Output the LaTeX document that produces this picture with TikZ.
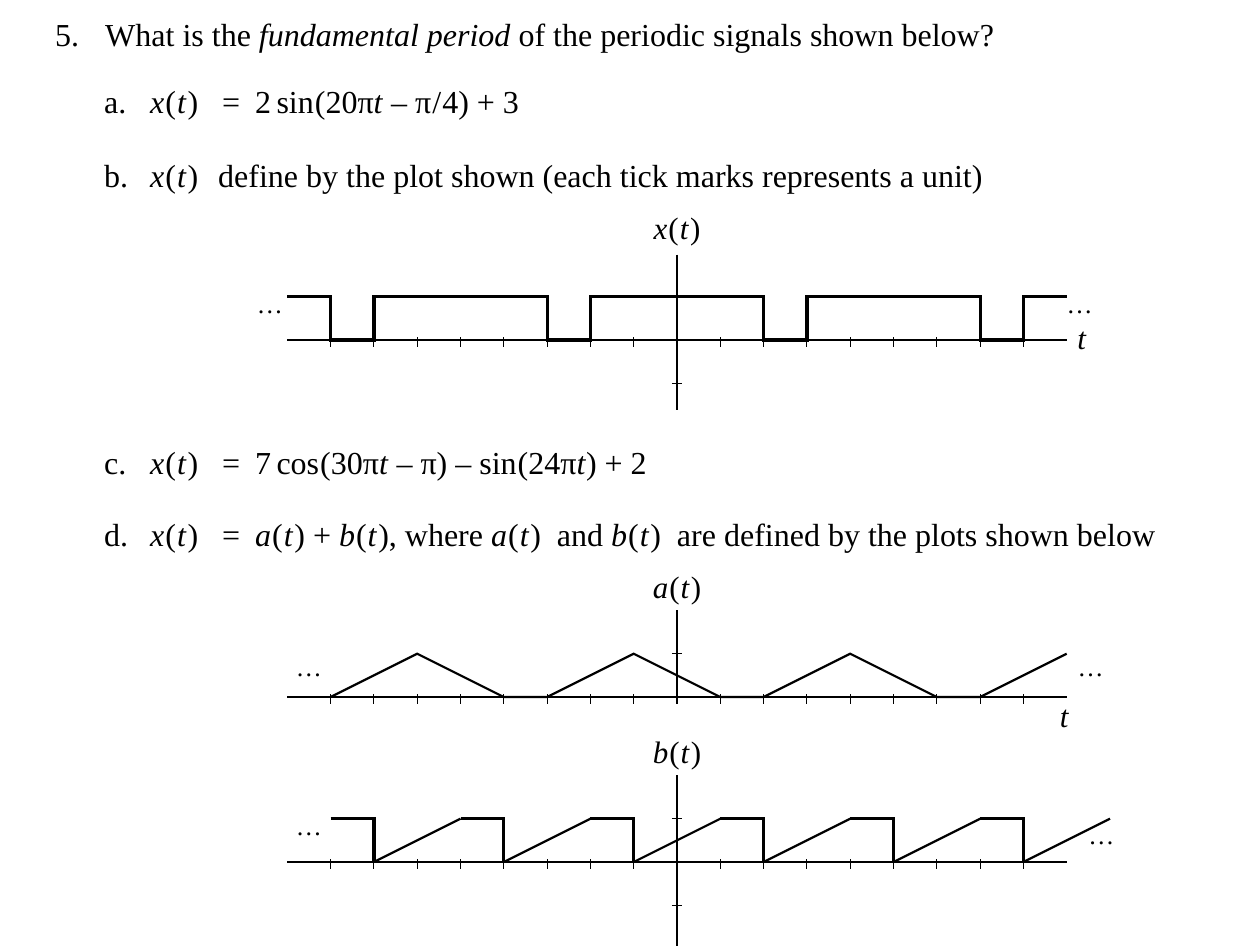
\documentclass[tikz,border=0pt]{standalone}
\usepackage{fontspec}
\setmainfont{Liberation Serif}
\newcommand{\fx}[1]{\textit{#1}\kern1pt(\kern1pt\textit{t}\kern1pt)}
\begin{document}
\begin{tikzpicture}[x=1pt,y=-1pt,
  txt/.style={anchor=base west,inner sep=0pt,font=\fontsize{32}{38}\selectfont},
  lbl/.style={inner sep=0pt,font=\fontsize{31}{36}\selectfont},
  dots/.style={inner sep=0pt,font=\fontsize{26}{30}\selectfont},
  sig/.style={line width=3.2pt,line join=miter},
  ax/.style={line width=1.3pt},
  tk/.style={line width=1.1pt}]
\useasboundingbox (0,0) rectangle (1258,946);
\node[txt] (q5) at (55,46) {5.};
\node[txt] (q) at (105,46) {What is the \textit{fundamental period} of the periodic signals shown below?};
\node[txt] (la) at (104,113) {a.};
\node[txt] (xa) at (150,113) {\fx{x}};
\node[txt] (ea) at (222,113) {=};
\node[txt] (fa) at (255,113) {2\,sin\kern1pt(20π\textit{t} – π\kern1pt/\kern1pt4) + 3};
\node[txt] (lb) at (104,187) {b.};
\node[txt] (xb) at (150,187) {\fx{x}};
\node[txt] (fb) at (218,187) {define by the plot shown (each tick marks represents a unit)};
\node[txt] (lc) at (104,474) {c.};
\node[txt] (xc) at (150,474) {\fx{x}};
\node[txt] (ec) at (222,474) {=};
\node[txt] (fc) at (255,474) {7\,cos\kern1pt(30π\textit{t} – π) – sin\kern1pt(24π\textit{t}) + 2};
\node[txt] (ld) at (104,546) {d.};
\node[txt] (xd) at (150,546) {\fx{x}};
\node[txt] (ed) at (222,546) {=};
\node[txt] (fd) at (255,546) {\fx{a} + \fx{b}, where \fx{a} \ and \fx{b} \ are defined by the plots shown below};
% plot b
\begin{scope}[shift={(677,340)},x=43.3pt,y=43.3pt]
 \draw[ax] (-9,0) -- (9,0);
 \draw[ax] (0,1.97) -- (0,-1.62);
 \foreach \i in {-8,...,8} \draw[tk] (\i,0.06) -- (\i,-0.15);
 \draw[tk] (-0.12,-1) -- (0.12,-1);
 \draw[sig] (-9,1)--(-8,1)--(-8,0)--(-7,0)--(-7,1)--(-3,1)--(-3,0)--(-2,0)--(-2,1)--(2,1)--(2,0)--(3,0)--(3,1)--(7,1)--(7,0)--(8,0)--(8,1)--(9,1);
 \node[lbl] (xl) at (0,2.5) {\fx{x}};
 \node[dots] (el1) at (-9.4,0.65) {…};
 \node[dots] (er1) at (9.3,0.65) {…};
 \node[lbl] (t1) at (9.35,-0.02) {\textit{t}};
\end{scope}
% plot a(t)
\begin{scope}[shift={(677,697)},x=43.3pt,y=43.3pt]
 \draw[ax] (-9,0) -- (9,0);
 \draw[ax] (0,2) -- (0,-0.1);
 \foreach \i in {-8,...,8} \draw[tk] (\i,0.06) -- (\i,-0.15);
 \draw[tk] (-0.12,1) -- (0.12,1);
 \draw[line width=2.2pt] (-8,0)--(-6,1)--(-4,0)--(-3,0)--(-1,1)--(1,0)--(2,0)--(4,1)--(6,0)--(7,0)--(9,1);
 \node[lbl] (al) at (0,2.45) {\fx{a}};
 \node[dots] (el2) at (-8.5,0.5) {…};
 \node[dots] (er2) at (9.55,0.5) {…};
 \node[lbl] (t2) at (8.95,-0.5) {\textit{t}};
\end{scope}
% plot b(t)
\begin{scope}[shift={(677,862)},x=43.3pt,y=43.3pt]
 \draw[ax] (-9,0) -- (9,0);
 \draw[ax] (0,2) -- (0,-1.93);
 \foreach \i in {-8,...,8} \draw[tk] (\i,0.06) -- (\i,-0.15);
 \draw[tk] (-0.12,1) -- (0.12,1);
 \draw[tk] (-0.12,-1) -- (0.12,-1);
 \draw[line width=2.2pt] (-7,0)--(-5,1) (-4,0)--(-2,1) (-1,0)--(1,1) (2,0)--(4,1) (5,0)--(7,1) (8,0)--(10,1);
 \draw[sig] (-8,1)--(-7,1)--(-7,0) (-5,1)--(-4,1)--(-4,0) (-2,1)--(-1,1)--(-1,0) (1,1)--(2,1)--(2,0) (4,1)--(5,1)--(5,0) (7,1)--(8,1)--(8,0);
 \node[lbl] (bl) at (0,2.45) {\fx{b}};
 \node[dots] (el3) at (-8.5,0.65) {…};
 \node[dots] (er3) at (9.8,0.42) {…};
\end{scope}
\end{tikzpicture}
\end{document}
